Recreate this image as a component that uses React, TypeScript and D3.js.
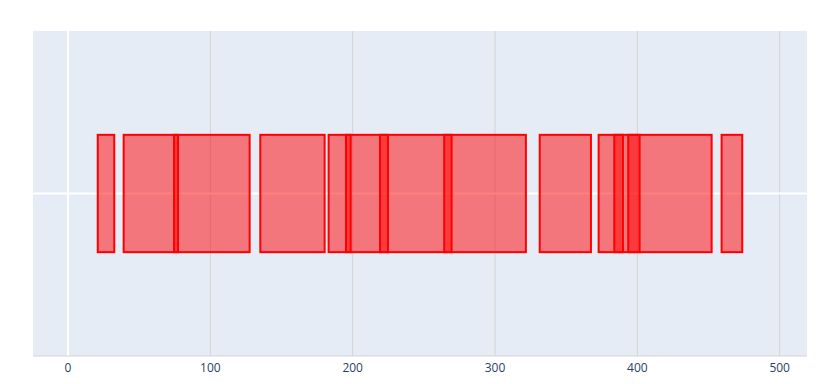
import React from "react";
import * as d3 from "d3";

const starts = [20.9, 39.1, 74.5, 135.1, 183.1, 195.3, 219.2, 264.3, 331.4, 372.8, 383.8, 393.6, 459.2];
const ends = [32.5, 77.3, 127.6, 180.3, 198.6, 224.8, 269.5, 321.7, 367.4, 389.9, 401.6, 452.2, 473.7];
const xTicks = [0, 100, 200, 300, 400, 500];
const yLow = -0.5;
const yHigh = 0.5;

const W = 828;
const H = 384;
const left = 33;
const top = 31;
const pw = 774;
const ph = 325;

export default function App() {
  const x = d3.scaleLinear().domain([-24.6, 519.2]).range([left, left + pw]);
  const y = d3.scaleLinear().domain([-1.385, 1.385]).range([top + ph, top]);
  const font = "'Open Sans', 'Noto Sans', sans-serif";
  return (
    <svg
      width={W}
      height={H}
      style={{ position: "fixed", left: 0, top: 0, background: "#fff" }}
    >
      <rect x={left} y={top} width={pw} height={ph} fill="#e5ecf6" />
      {xTicks.filter((t) => t !== 0).map((t) => (
        <line key={t} x1={x(t)} x2={x(t)} y1={top} y2={top + ph} stroke="#d3d3d3" strokeWidth={1} />
      ))}
      <line x1={x(0)} x2={x(0)} y1={top} y2={top + ph} stroke="#fff" strokeWidth={2} />
      <line x1={left} x2={left + pw} y1={y(0)} y2={y(0)} stroke="#fff" strokeWidth={2} />
      <line x1={left} x2={left + pw} y1={top + ph} y2={top + ph} stroke="#d3d3d3" strokeWidth={1} />
      {starts.map((s, i) => (
        <rect
          key={i}
          x={x(s)}
          y={y(yHigh)}
          width={x(ends[i]) - x(s)}
          height={y(yLow) - y(yHigh)}
          fill="rgba(255,0,0,0.5)"
          stroke="#ff0000"
          strokeWidth={2}
        />
      ))}
      {xTicks.map((t) => (
        <text
          key={t}
          x={x(t)}
          y={top + ph + 15.5}
          textAnchor="middle"
          fontFamily={font}
          fontSize={12}
          fill="#2a3f5f"
        >
          {t}
        </text>
      ))}
    </svg>
  );
}
